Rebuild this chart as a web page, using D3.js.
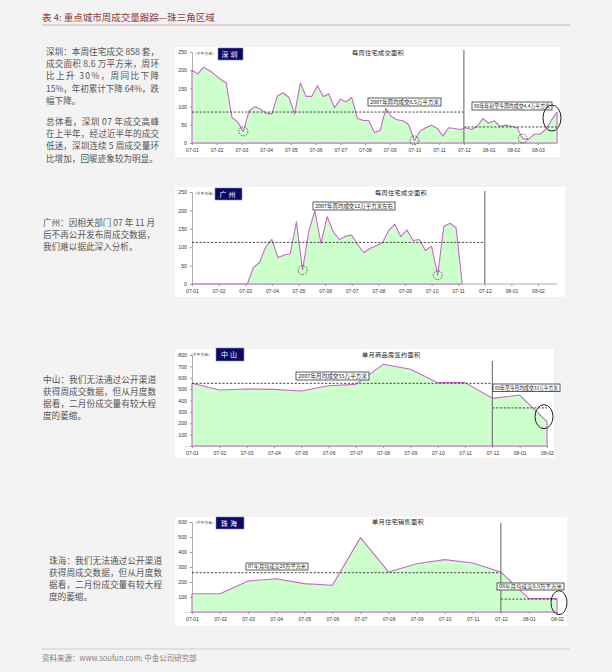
<!DOCTYPE html>
<html><head><meta charset="utf-8">
<script src="https://cdn.jsdelivr.net/npm/d3@7"></script>
<style>html,body{margin:0;padding:0;background:#f3f3f3;}</style>
</head><body>
<svg id="c" width="612" height="672"></svg>
<script>
// ---------------- DATA ----------------
const szMonths = ["07-01","07-02","07-03","07-04","07-05","07-06","07-07","07-08","07-09","07-10","07-11","07-12","08-01","08-02","08-03"];
const gzMonths = ["07-01","07-02","07-03","07-04","07-05","07-06","07-07","07-08","07-09","07-10","07-11","07-12","08-01","08-02"];
const zsMonths = ["07-01","07-02","07-03","07-04","07-05","07-06","07-07","07-08","07-09","07-10","07-11","07-12","08-01","08-02"];
const zhMonths = ["07-01","07-02","07-03","07-04","07-05","07-06","07-07","07-08","07-09","07-10","07-11","07-12","08-01","08-02"];

// Shenzhen weekly residential transaction area (thousand sqm), 2007 wk1 .. 2008 wk13
const szWeekly = [200,190,208,200,188,175,165,70,58,32,88,100,93,82,80,130,138,125,80,165,128,128,158,128,135,97,120,113,125,68,62,62,28,35,95,72,64,61,50,7,33,42,49,40,19,42,40,37,42,37,46,67,55,61,46,49,46,42,12,10,24,24,37,62,85];
// Guangzhou weekly (thousand sqm)
const gzWeekly = [0,0,0,0,0,0,0,0,0,0,45,59,101,121,72,79,82,169,38,142,199,110,183,142,121,130,133,106,85,97,104,112,145,163,129,147,118,121,91,103,24,156,165,153,0];
// Zhongshan monthly contracted area (thousand sqm)
const zsMonthly = [551,492,501,498,483,530,542,718,674,557,557,419,448,214];
// Zhuhai monthly sold area (thousand sqm)
const zhMonthly = [122,122,207,222,189,178,496,267,322,349,327,267,89,89];

// averages (thousand sqm)
const szAvg = [85, 44];
const gzAvg = [113];
const zsAvg = [551, 335];
const zhAvg = [262, 86];

const szNotes = ["2007年周均成交8.5万平方米", "08年年初至今周均成交4.4万平方米"];
const gzNotes = ["2007年周均成交12万平方米左右"];
const zsNotes = ["2007年月均成交55万平方米", "08年至今月均成交33万平方米"];
const zhNotes = ["07年月均成交26万平方米", "08年月均成交8.9万平方米"];

// ---------------- DRAW ----------------
const CJK = "'Noto Sans CJK SC','Noto Sans',sans-serif";
const LAT = "Arial,'Liberation Sans',sans-serif";
const svg = d3.select("#c");
svg.append("rect").attr("width",612).attr("height",672).attr("fill","#f3f3f3");

// header
svg.append("text").attr("x",42).attr("y",20.5).attr("font-family",CJK).attr("font-size",9.5)
  .attr("fill","#8c3b3b").text("表 4:  重点城市周成交量跟踪—珠三角区域");
svg.append("line").attr("x1",42).attr("x2",570).attr("y1",25).attr("y2",25)
  .attr("stroke","#d9c9c9").attr("stroke-width",1.5);

// footer
svg.append("line").attr("x1",42).attr("x2",570).attr("y1",649).attr("y2",649)
  .attr("stroke","#d9c9c9").attr("stroke-width",1.2);
svg.append("text").attr("x",42).attr("y",661).attr("font-family",CJK).attr("font-size",7.5)
  .attr("fill","#8a7b7b").text("资料来源：www.soufun.com; 中金公司研究部");

// paragraphs
function para(x, y, lh, width, lines, fs) {
  lines.forEach((t, i) => {
    const tx = svg.append("text").attr("x", x).attr("y", y + i*lh).attr("font-family", CJK)
      .attr("font-size", fs).attr("fill", "#555").text(t);
    if (i < lines.length - 1) tx.attr("textLength", width).attr("lengthAdjust", "spacing");
  });
}
para(46, 55, 12.2, 113, ["深圳：本周住宅成交 858 套，","成交面积 8.6 万平方米，周环","比上升  30%，周同比下降","15%，年初累计下降 64%，跌","幅下降。"], 8.6);
para(46, 125, 12.2, 113, ["总体看，深圳 07 年成交高峰","在上半年，经过近半年的成交","低迷，深圳连续 5 周成交量环","比增加，回暖迹象较为明显。"], 8.6);
para(43, 226, 12, 112, ["广州：因相关部门 07 年 11 月","后不再公开发布周成交数据，","我们难以据此深入分析。"], 8.6);
para(43, 383, 12, 113, ["中山：我们无法通过公开渠道","获得周成交数据，但从月度数","据看，二月份成交量有较大程","度的萎缩。"], 8.6);
para(49, 564, 12, 113, ["珠海：我们无法通过公开渠道","获得周成交数据，但从月度数","据看，二月份成交量有较大程","度的萎缩。"], 8.6);

function panel(o) {
  const g = svg.append("g");
  g.append("rect").attr("x",o.box[0]).attr("y",o.box[1]).attr("width",o.box[2]).attr("height",o.box[3]).attr("fill","#ffffff");
  const x = d3.scaleLinear().domain([0, o.labels.length-1]).range([o.x0, o.xLast]);
  const y = d3.scaleLinear().domain([0, o.yMax]).range([o.yB, o.yT]);

  // y axis
  const ya = d3.axisLeft(y).tickValues(d3.range(0, o.yMax+1, o.yStep)).tickSize(2).tickPadding(3)
    .tickFormat(d => (d === 0 && o.dash0) ? "-" : d);
  const yg = g.append("g").attr("transform", `translate(${o.x0},0)`).call(ya);
  yg.select(".domain").attr("stroke","#9a9a9a").attr("stroke-width",0.8);
  yg.selectAll(".tick line").attr("stroke","#9a9a9a");
  yg.selectAll("text").attr("font-family",LAT).attr("font-size",5.2).attr("fill","#333");

  // x axis
  const xa = d3.axisBottom(x).tickValues(d3.range(o.labels.length)).tickSize(2).tickPadding(o.xPad)
    .tickFormat(i => o.labels[i]);
  const xg = g.append("g").attr("transform", `translate(0,${o.yB})`).call(xa);
  xg.select(".domain").remove();
  xg.selectAll(".tick line").attr("stroke","#9a9a9a");
  xg.selectAll("text").attr("font-family",LAT).attr("font-size",5).attr("fill","#333");
  g.append("line").attr("x1",o.x0).attr("x2",o.xEnd).attr("y1",o.yB).attr("y2",o.yB)
    .attr("stroke","#9a9a9a").attr("stroke-width",0.8);

  // area
  const pts = o.values.map((v, i) => ({m: i * o.step, v}));
  const area = d3.area().x(d => x(d.m)).y0(y(0)).y1(d => y(d.v));
  g.append("path").attr("d", area(pts)).attr("fill","#ccffcc").attr("stroke","#cc66cc").attr("stroke-width",1.1)
    .attr("stroke-linejoin","round");

  // average dashed lines
  const lastM = (o.values.length-1) * o.step;
  g.append("line").attr("x1",x(0)).attr("x2",x(11)).attr("y1",y(o.avg[0])).attr("y2",y(o.avg[0]))
    .attr("stroke","#333").attr("stroke-width",0.9).attr("stroke-dasharray","2.2,1.6");
  if (o.avg.length > 1) {
    g.append("line").attr("x1",x(11)).attr("x2",x(lastM)).attr("y1",y(o.avg[1])).attr("y2",y(o.avg[1]))
      .attr("stroke","#333").attr("stroke-width",0.9).attr("stroke-dasharray","2.2,1.6");
  }
  // divider
  g.append("line").attr("x1",x(11)).attr("x2",x(11)).attr("y1",o.vTop).attr("y2",o.yB)
    .attr("stroke","#7a7a7a").attr("stroke-width",1.2);

  // note boxes
  o.notes.forEach((t, i) => {
    const b = o.noteBoxes[i];
    g.append("rect").attr("x",b[0]).attr("y",b[1]).attr("width",b[2]).attr("height",b[3])
      .attr("fill","#fff").attr("stroke","#333").attr("stroke-width",0.8);
    g.append("text").attr("x",b[0]+b[2]/2).attr("y",b[1]+b[3]/2+1.9).attr("text-anchor","middle")
      .attr("font-family",CJK).attr("font-size",o.noteFs).attr("fill","#222")
      .attr("textLength", b[2]-4).attr("lengthAdjust","spacingAndGlyphs").text(t);
  });

  // small dashed circles at dips
  (o.dips || []).forEach(i => {
    g.append("circle").attr("cx", x(i*o.step)).attr("cy", y(o.values[i])).attr("r",4.5)
      .attr("fill","none").attr("stroke","#333").attr("stroke-width",0.8).attr("stroke-dasharray","1.5,1.2");
  });
  // ellipse around latest value
  if (o.ell) {
    const n = o.values.length;
    const cx = x((n-1)*o.step) + o.ell[0];
    const cy = y(o.values[n-1]) + o.ell[1];
    g.append("ellipse").attr("cx",cx).attr("cy",cy).attr("rx",o.ell[2]).attr("ry",o.ell[3])
      .attr("fill","none").attr("stroke","#222").attr("stroke-width",1);
  }

  // city tag
  const c = o.city;
  g.append("rect").attr("x",c[0]).attr("y",c[1]).attr("width",c[2]).attr("height",c[3])
    .attr("fill","#0a0a66").attr("stroke","#8888aa").attr("stroke-width",0.6);
  g.append("text").attr("x",c[0]+c[2]/2).attr("y",c[1]+c[3]/2+2.5).attr("text-anchor","middle")
    .attr("font-family",CJK).attr("font-size",7).attr("fill","#fff").attr("letter-spacing",2).text(o.cityName);
  // units
  g.append("text").attr("x",o.unitPos[0]).attr("y",o.unitPos[1]).attr("font-family",CJK).attr("font-size",3.8)
    .attr("fill","#333").text("（千平方米）");
  // title
  g.append("text").attr("x",o.titlePos[0]).attr("y",o.titlePos[1]).attr("font-family",CJK).attr("font-size",6.2)
    .attr("fill","#222").attr("letter-spacing",0.3).text(o.title);
}

panel({
  box:[175,47,385,110], labels: szMonths, x0:192, xLast:538, xEnd:556, yB:143, yT:52, yMax:250, yStep:50,
  dash0:false, xPad:3, values: szWeekly, step: 12/52, avg: szAvg, vTop:50,
  notes: szNotes, noteBoxes: [[368,98,73,8],[472,102,80,8]], noteFs:5.2,
  dips:[9,39,58], ell:[-5,6,9,13],
  city:[218,48,25,12], cityName:"深圳", unitPos:[193,55], titlePos:[352,55], title:"每周住宅成交面积"
});
panel({
  box:[175,187,390,110], labels: gzMonths, x0:192, xLast:538, xEnd:557, yB:284, yT:192, yMax:250, yStep:50,
  dash0:false, xPad:3.5, values: gzWeekly, step: 12/52, avg: gzAvg, vTop:191,
  notes: gzNotes, noteBoxes: [[313,202,82,8]], noteFs:5.2,
  dips:[18,40], ell:null,
  city:[215,188,27,12], cityName:"广州", unitPos:[193,195], titlePos:[375,195], title:"每周住宅成交面积"
});
panel({
  box:[175,349,379,109], labels: zsMonths, x0:192, xLast:547, xEnd:547, yB:446, yT:355, yMax:800, yStep:100,
  dash0:true, xPad:3, values: zsMonthly, step: 1, avg: zsAvg, vTop:361,
  notes: zsNotes, noteBoxes: [[296,372,73,8],[493,384,67,7.5]], noteFs:5.2,
  dips:[], ell:[-3,-5,9,12],
  city:[216,348,28,13], cityName:"中山", unitPos:[189,356], titlePos:[362,357], title:"单月商品房签约面积"
});
panel({
  box:[175,517,392,109], labels: zhMonths, x0:192, xLast:557, xEnd:557, yB:612, yT:522, yMax:600, yStep:100,
  dash0:true, xPad:3, values: zhMonthly, step: 1, avg: zhAvg, vTop:523,
  notes: zhNotes, noteBoxes: [[246,563,62,7],[497,583,67,7]], noteFs:5,
  dips:[], ell:[2,4,8,12],
  city:[216,517,28,12], cityName:"珠海", unitPos:[193,524], titlePos:[372,524], title:"单月住宅销售面积"
});
</script>
</body></html>
